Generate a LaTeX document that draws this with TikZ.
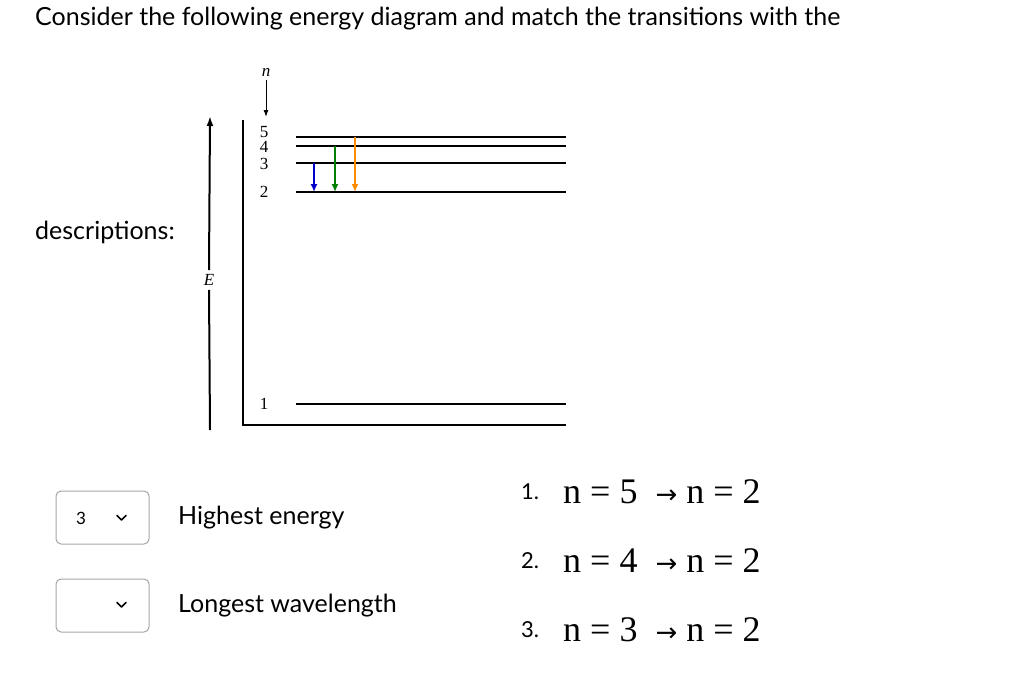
\documentclass[tikz,border=0pt]{standalone}
\usepackage{fontspec}
\setmainfont{Lato}
\newfontfamily\tms{Liberation Serif}
\newfontfamily\djv{DejaVu Sans}
\usetikzlibrary{arrows.meta}
\begin{document}
\begin{tikzpicture}[x=1pt,y=-1pt,
  ui/.style={anchor=west,inner sep=0pt,font=\fontsize{25}{27}\selectfont},
  lvl/.style={line width=1.3pt},
  lab/.style={font=\tms\fontsize{17}{17}\selectfont,inner sep=0pt},
  tr/.style={line width=2pt,-{Latex[length=8pt,width=7pt]}},
  box/.style={draw=gray!70,rounded corners=5pt,line width=1pt,minimum width=93pt,minimum height=53pt},
  chev/.style={line width=1.6pt,line cap=round,line join=round},
  eq/.style={anchor=west,inner sep=0pt,font=\tms\fontsize{36}{38}\selectfont}]
\useasboundingbox (0,0) rectangle (1024,683);
\node[ui] (title) at (35,19) {Consider the following energy diagram and match the transitions with the};
\node[ui] (desc) at (35,232) {descriptions:};
% energy diagram
\node[lab,font=\tms\itshape\fontsize{17}{17}\selectfont] (n) at (266,72) {n};
\coordinate (nt) at (266,80);
\coordinate (nb) at (266,117);
\draw[-{Latex[length=7pt,width=5pt]},line width=1pt] (nt) -- (nb);
\node[lab,font=\tms\itshape\fontsize{17}{17}\selectfont,inner sep=4pt] (E) at (209,280) {E};
\coordinate (Eb) at (210,430);
\coordinate (Et) at (210,116);
\draw[line width=2pt] (Eb) -- (E.south);
\draw[line width=2pt,-{Latex[length=10pt,width=7pt]}] (E.north) -- (Et);
\coordinate (ax) at (243,120);
\coordinate (ao) at (243,425);
\coordinate (ar) at (566,425);
\draw[line width=1.2pt] (ax) -- (ao) -- (ar);
\foreach \k/\y in {5/132,4/147,3/164,2/192,1/404}{
  \node[lab] (l\k) at (264,\y) {\k};
}
\foreach \k/\y in {5/137,4/146,3/163,2/192,1/404}{
  \coordinate (a\k) at (296,\y);
  \coordinate (b\k) at (566,\y);
  \draw[lvl] (a\k) -- (b\k);
}
\coordinate (t3) at (314,163); \coordinate (u3) at (314,192);
\coordinate (t4) at (335,146); \coordinate (u4) at (335,192);
\coordinate (t5) at (355,137); \coordinate (u5) at (355,192);
\draw[tr,blue!80!black] (t3) -- (u3);
\draw[tr,green!50!black] (t4) -- (u4);
\draw[tr,orange!90!yellow] (t5) -- (u5);
% answer boxes
\node[box] (b1) at (102.5,517.5) {};
\node[box] (b2) at (102.5,605.5) {};
\node[ui,font=\fontsize{17}{17}\selectfont] (v1) at (76,518) {3};
\foreach \c/\y in {1/518,2/605}{
  \coordinate (cl\c) at (117,\y-2.5);
  \coordinate (cm\c) at (121.5,\y+2);
  \coordinate (cr\c) at (126,\y-2.5);
  \draw[chev] (cl\c) -- (cm\c) -- (cr\c);
}
\node[ui] (h) at (178,518) {Highest energy};
\node[ui] (w) at (178,606) {Longest wavelength};
% options
\foreach \i/\a/\y in {1/5/492,2/4/561,3/3/630}{
  \node[ui,font=\fontsize{22}{22}\selectfont] (o\i) at (521,\y) {\i.};
  \node[eq] (e\i) at (563,\y) {n = \a\ \ {\djv\fontsize{26}{26}\selectfont→}\ n = 2};
}
\end{tikzpicture}
\end{document}
